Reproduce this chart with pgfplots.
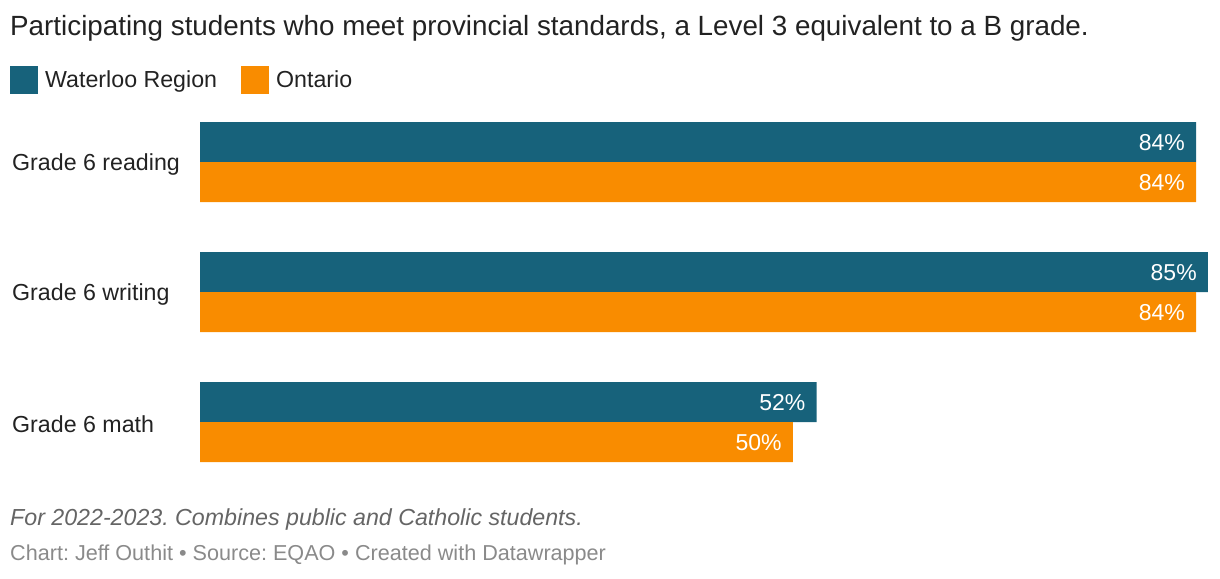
\documentclass[border=0pt]{standalone}
\usepackage{pgfplots}
\pgfplotsset{compat=1.18}
\usepackage{fontspec}
\setmainfont{Liberation Sans}
\frenchspacing
\definecolor{wr}{HTML}{17627B}
\definecolor{on}{HTML}{F98C00}
\definecolor{tt}{HTML}{222222}
\definecolor{fn}{HTML}{656565}
\definecolor{cr}{HTML}{8A8A8A}
\begin{document}
\begin{tikzpicture}[x=1pt,y=1pt]
\useasboundingbox (0,0) rectangle (1220,-578);
\node[anchor=base west, inner sep=0pt, text=tt, font=\fontsize{27.8}{32}\selectfont] at (10,-36) {Participating students who meet provincial standards, a Level 3 equivalent to a B grade.};
\node[anchor=base west, inner sep=0pt, text=fn, font=\fontsize{23.2}{27}\selectfont\itshape] at (10,-525) {For 2022-2023. Combines public and Catholic students.};
\node[anchor=base west, inner sep=0pt, text=cr, font=\fontsize{21.6}{25}\selectfont] at (10,-560) {Chart: Jeff Outhit • Source: EQAO • Created with Datawrapper};
\begin{axis}[
  at={(200pt,-487pt)}, anchor=south west,
  scale only axis, width=1008pt, height=390pt,
  xmin=0, xmax=85, ymin=-0.5, ymax=2.5,
  xbar, bar width=40pt,
  axis line style={draw=none},
  xtick=\empty, ytick={0,1,2},
  yticklabels={Grade 6 math, Grade 6 writing, Grade 6 reading},
  major tick length=0pt,
  yticklabel style={anchor=west, xshift=-188pt, yshift=-2pt, inner sep=0pt, font=\fontsize{23.2}{27}\selectfont, text=tt},
  nodes near coords={\pgfmathprintnumber[assume math mode=true]{\pgfplotspointmeta}\%},
  nodes near coords style={anchor=east, text=white, inner sep=0pt, xshift=-11pt, yshift=-1pt, font=\fontsize{23}{27}\selectfont},
  legend columns=2,
  legend style={at={(-0.1885,1.0795)}, anchor=north west, draw=none, fill=none, inner sep=0pt,
    font=\fontsize{23.2}{27}\selectfont, text=tt,
    /tikz/every odd column/.append style={column sep=5pt},
    /tikz/every even column/.append style={column sep=22pt}},
  legend image code/.code={\fill[#1,draw=none] (0pt,-14pt) rectangle (28pt,14pt);},
]
\addplot[fill=wr, draw=none, bar shift=20pt] coordinates {(52,0) (85,1) (84,2)};
\addplot[fill=on, draw=none, bar shift=-20pt] coordinates {(50,0) (84,1) (84,2)};
\legend{Waterloo Region, Ontario}
\end{axis}
\end{tikzpicture}
\end{document}
